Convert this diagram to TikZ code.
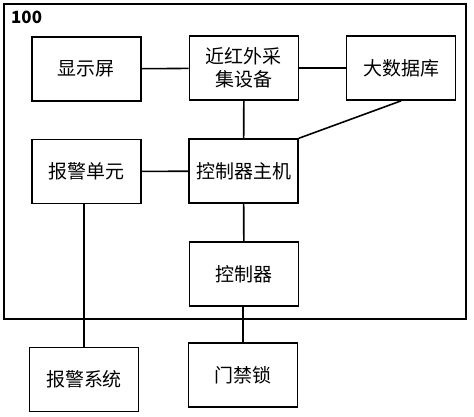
\documentclass[tikz,border=0pt]{standalone}
\usepackage{fontspec}
\setmainfont{Noto Sans CJK SC}
\usepackage{tikz}
\usetikzlibrary{positioning, calc}

\begin{document}
\begin{tikzpicture}[
  blk/.style={draw, line width=1.5pt, minimum width=3.63cm, minimum height=2.13cm, align=center, font=\fontsize{18}{22}\selectfont},
  wire/.style={line width=1.5pt}]
\useasboundingbox (0,0) rectangle (15.8,-13.867);
\draw[line width=1.5pt] (0.133,-0.133) rectangle (15.533,-10.633);
\node[anchor=west, font=\fontsize{16}{18}\selectfont\bfseries] (num) at (0.25,-0.58) {100};
\node[blk] (disp) at (2.88,-2.3) {显示屏};
\node[blk] (nir) at (8.13,-2.27) {近红外采\\集设备};
\node[blk] (db) at (13.37,-2.27) {大数据库};
\node[blk] (alarm) at (2.88,-5.72) {报警单元};
\node[blk] (host) at (8.12,-5.7) {控制器主机};
\node[blk] (ctrl) at (8.13,-9.13) {控制器};
\node[blk] (asys) at (2.8,-12.65) {报警系统};
\node[blk] (lock) at (8.1,-12.5) {门禁锁};
\draw[wire] (disp) -- (nir);
\draw[wire] (nir) -- (db);
\draw[wire] (nir) -- (host);
\draw[wire] (db.south) -- (host.north east);
\draw[wire] (alarm) -- (host);
\draw[wire] (host) -- (ctrl);
\draw[wire] (alarm.south -| asys.north) -- (asys.north);
\draw[wire] (ctrl.south -| lock.north) -- (lock.north);
\end{tikzpicture}
\end{document}
